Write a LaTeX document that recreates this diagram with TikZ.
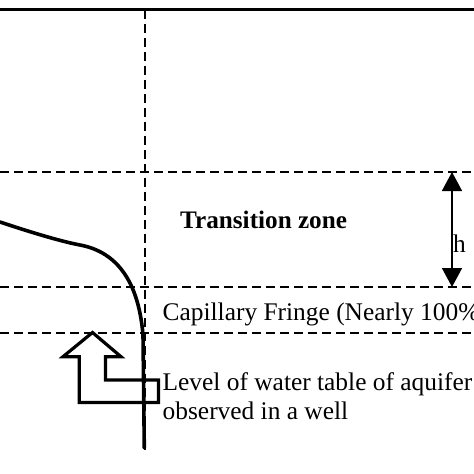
\documentclass[tikz,border=0pt]{standalone}
\usepackage{fontspec}
\setmainfont{Liberation Serif}
\usetikzlibrary{arrows.meta}
\begin{document}
\begin{tikzpicture}[x=1pt,y=-1pt,
  lbl/.style={inner sep=0pt, anchor=base west, font=\fontsize{25.4}{29}\selectfont},
  dline/.style={line width=2pt, dash pattern=on 9pt off 5pt},
  hline/.style={line width=1.6pt, {Triangle[width=20pt,length=19pt]}-{Triangle[width=20pt,length=19pt]}},
  curveline/.style={line width=3.6pt, line cap=round, line join=round},
  blockarrow/.style={line width=3.2pt, line join=miter}
]
\useasboundingbox (0,0) rectangle (474,474);
\clip (0,0) rectangle (474,474);
% top solid line
\coordinate (topL) at (0,9.5);
\coordinate (topR) at (474,9.5);
\draw[line width=2.2pt] (topL) -- (topR);
% vertical dashed line
\coordinate (vTop) at (144.5,10);
\coordinate (vBot) at (144.5,450);
\draw[dline] (vTop) -- (vBot);
% horizontal dashed lines
\coordinate (d1L) at (0,172);   \coordinate (d1R) at (474,172);
\coordinate (d2L) at (0,287);   \coordinate (d2R) at (474,287);
\coordinate (d3L) at (0,333);   \coordinate (d3R) at (474,333);
\draw[dline] (d1L) -- (d1R);
\draw[dline] (d2L) -- (d2R);
\draw[dline] (d3L) -- (d3R);
% h arrow
\coordinate (hTop) at (452,172);
\coordinate (hBot) at (452,287);
\draw[hline] (hTop) -- (hBot);
\node[lbl] (hlab) at (453,252) {h};
% curve
\draw[curveline] (0,222) .. controls (27,231) and (59,241) .. (80,245)
  .. controls (112,251) and (138,275) .. (143,335) -- (144.3,448);
% block arrow
\draw[blockarrow] (92.5,332.5) -- (121,356.7) -- (105.5,356.7) -- (105.5,380) -- (158.5,380) -- (158.5,402.5) -- (79.3,402.5) -- (79.3,356.7) -- (63,356.7) -- cycle;
% labels
\node[lbl, font=\fontsize{25.2}{29}\selectfont\bfseries] (trans) at (180,228) {Transition zone};
\node[lbl] (cap) at (162.5,320) {Capillary Fringe (Nearly 100\%};
\node[lbl] (lvl1) at (162.5,390) {Level of water table of aquifer};
\node[lbl] (lvl2) at (162.5,419) {observed in a well};
\end{tikzpicture}
\end{document}
